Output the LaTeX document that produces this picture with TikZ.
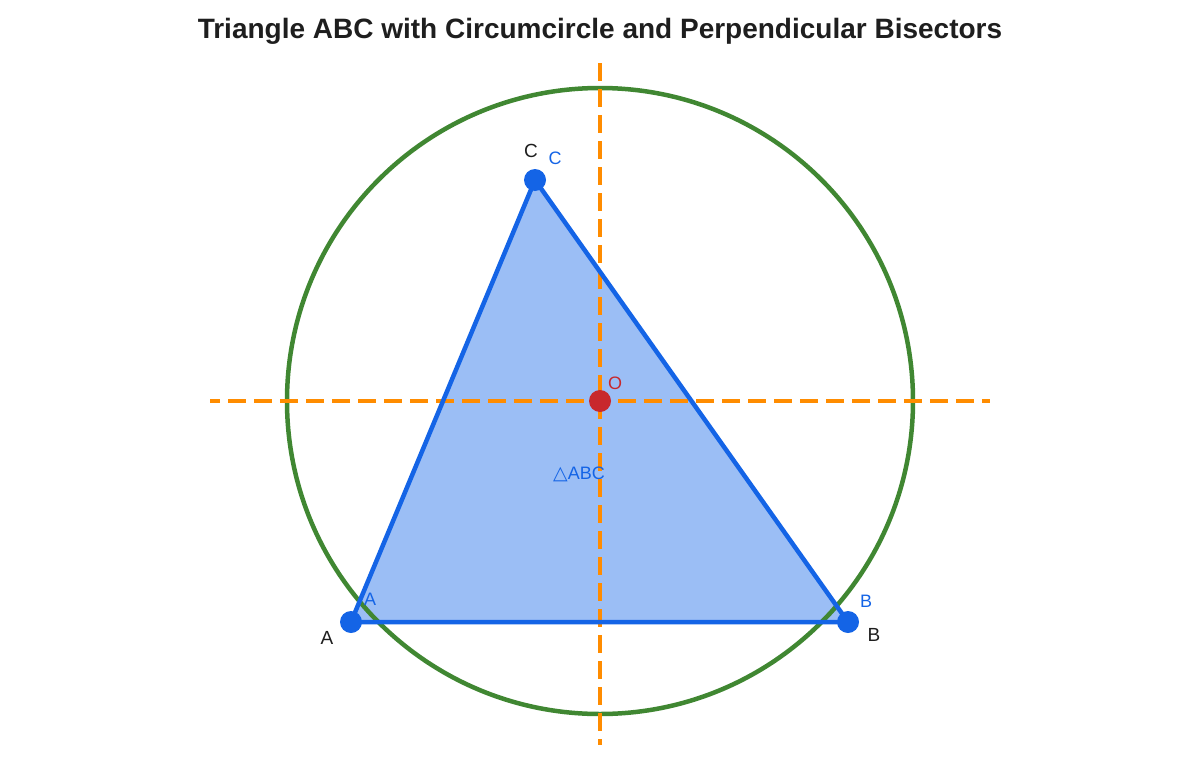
\documentclass[tikz,border=0pt]{standalone}
\usepackage{fontspec}
\setmainfont{Liberation Sans}
\newfontfamily\symfont{DejaVu Sans}
\usetikzlibrary{calc}
\definecolor{bisect}{RGB}{255,140,0}
\definecolor{circ}{RGB}{64,135,50}
\definecolor{tri}{RGB}{20,100,230}
\definecolor{trifill}{RGB}{155,190,245}
\definecolor{centre}{RGB}{200,40,45}
\definecolor{txt}{RGB}{30,30,30}
\tikzset{
  bisector/.style={bisect, line width=4.5pt, dash pattern=on 18pt off 8pt},
  vlabel/.style={font=\fontsize{18}{21}\selectfont, text=tri},
  plabel/.style={font=\fontsize{19}{22}\selectfont, text=txt}
}
\begin{document}
\begin{tikzpicture}[x=1pt,y=-1pt]
        \useasboundingbox (0,0) rectangle (1200,763);
        % Points
        \coordinate (A) at (351,622);
        \coordinate (B) at (848,622);
        \coordinate (C) at (535,180);
        \coordinate (O) at (600,401);

        % Triangle
        \fill[trifill] (A) -- (B) -- (C) -- cycle;
        % Circumcircle
        \draw[circ, line width=4.5pt] (O) circle (313);
        % Perpendicular bisectors
        \draw[bisector] (600,63) -- (600,745);
        \draw[bisector, dash phase=8pt] (210,401) -- (990,401);
        \draw[tri, line width=4.5pt, line join=round] (A) -- (B) -- (C) -- cycle;

        \fill[tri] (A) circle (11);
        \fill[tri] (B) circle (11);
        \fill[tri] (C) circle (11);
        \fill[centre] (O) circle (11);

        % Labels
        \node[plabel] (lA) at (327,638) {A};
        \node[plabel] (lB) at (874,635) {B};
        \node[plabel] (lC) at (531,151) {C};
        \node[vlabel] (vA) at (370,599) {A};
        \node[vlabel] (vB) at (866,601) {B};
        \node[vlabel] (vC) at (555,158) {C};
        \node[vlabel, text=centre] (lO) at (615,383) {O};
        \node[vlabel] (lT) at (579,474) {{\symfont\fontsize{19}{21}\selectfont △}ABC};

        \node[font=\bfseries\fontsize{28}{32}\selectfont, text=txt] (title) at (600,31) {Triangle ABC with Circumcircle and Perpendicular Bisectors};
    \end{tikzpicture}
\end{document}
